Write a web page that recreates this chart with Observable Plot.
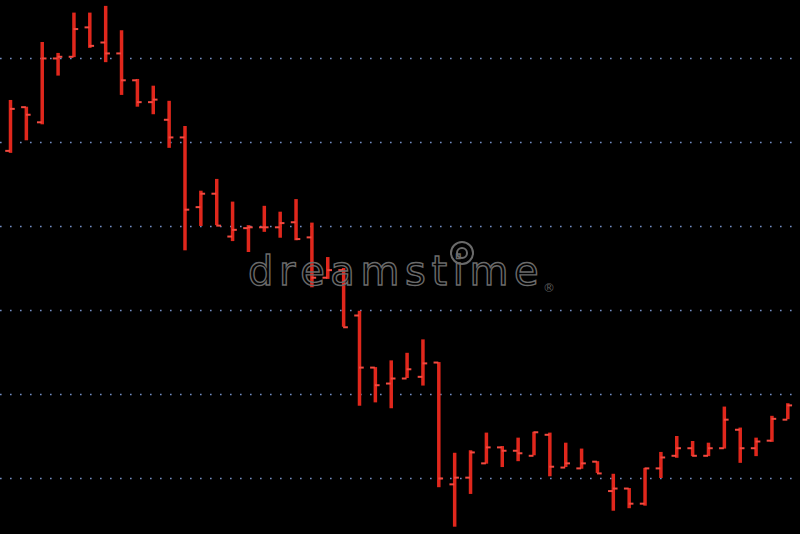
<!DOCTYPE html>
<html>
<head>
<meta charset="utf-8">
<script src="https://cdn.jsdelivr.net/npm/d3@7"></script>
<script src="https://cdn.jsdelivr.net/npm/@observablehq/plot@0.6"></script>
<style>
  html, body { margin: 0; padding: 0; background: #000; }
  #wrap { position: relative; width: 800px; height: 534px; overflow: hidden; }
  #wm { position: absolute; left: 248px; top: 248px; font-family: "DejaVu Sans", sans-serif;
        font-size: 40px; line-height: 46px; font-weight: normal; color: transparent; -webkit-text-stroke: 1.4px #6a6a6a;
        letter-spacing: 5.6px; white-space: nowrap; pointer-events: none; }
  #wm .last { letter-spacing: 0; }
  #reg { position: absolute; left: 543px; top: 281px; font-family: "DejaVu Sans", sans-serif; font-size: 12px;
         line-height: 14px; color: #5a5a5a; pointer-events: none; }
  #logo { position: absolute; left: 450px; top: 241px; width: 20px; height: 20px; border: 2px solid #6a6a6a;
          border-radius: 50%; pointer-events: none; }
  #logo2 { position: absolute; left: 456px; top: 247px; width: 8px; height: 8px; border: 2px solid #6a6a6a;
          border-radius: 50%; pointer-events: none; }
</style>
</head>
<body>
<div id="wrap"><div id="chart"></div><div id="logo"></div><div id="logo2"></div><div id="wm">dreamstim<span class="last">e</span></div><div id="reg">®</div></div>
<script>
const open  = [139.0,144.2,142.4,150.0,150.2,153.7,151.9,150.6,147.4,144.8,142.7,140.6,132.3,133.9,128.8,129.8,129.9,129.9,130.5,128.7,123.9,124.8,119.4,113.2,111.3,111.9,112.1,113.8,99.3,100.1,101.8,103.7,103.3,102.7,105.2,101.3,101.2,102.0,98.5,98.8,97.0,101.2,102.7,103.6,102.7,103.6,105.8,103.6,104.5,107.0];
const high  = [145.0,144.2,151.9,150.6,155.4,155.4,156.2,153.3,147.5,146.7,144.9,141.9,134.2,135.6,132.9,130.1,132.4,131.7,133.2,130.4,126.3,125.0,119.9,113.2,114.0,114.9,116.5,113.8,103.0,103.3,105.4,103.8,104.8,105.5,105.4,104.2,103.5,102.0,100.5,98.8,101.2,103.1,105.0,104.4,104.2,108.5,106.0,104.8,107.4,108.9];
const low   = [138.7,140.2,142.1,147.9,150.1,151.2,149.5,145.6,144.2,143.3,139.3,127.1,130.0,130.1,128.2,126.9,129.3,128.6,128.3,122.7,123.7,118.0,108.6,109.0,108.3,111.9,111.0,98.9,94.2,98.1,101.7,101.3,102.0,102.7,100.2,101.3,101.1,100.6,96.1,96.4,96.7,100.0,102.4,102.6,102.6,103.5,101.8,102.6,104.3,107.0];
const close = [144.0,143.3,150.0,150.2,153.5,151.5,150.6,147.4,144.8,145.1,140.6,132.0,133.9,130.1,129.6,129.9,129.9,130.4,128.5,123.9,124.8,118.0,113.2,111.1,111.9,113.0,113.7,100.0,100.1,103.1,103.7,103.3,103.0,105.5,101.4,101.8,101.8,100.6,98.8,97.0,101.2,102.5,103.6,102.7,103.6,107.0,103.6,104.4,107.1,108.7];
const gridLevels = [100, 110, 120, 130, 140, 150];

const data = open.map((o, i) => ({i, open: o, high: high[i], low: low[i], close: close[i]}));
const red = "#e0271c";
const tickRed = "#f24a40";
const chart = Plot.plot({
  width: 800, height: 534, margin: 0,
  x: {domain: [-0.63, 49.8], axis: null},
  y: {domain: [93.33, 156.9], axis: null},
  style: {background: "#000"},
  marks: [
    Plot.ruleY(gridLevels, {stroke: "#8aa8e8", strokeWidth: 1.6, strokeDasharray: "1.6,8.4", strokeOpacity: 0.85}),
    Plot.ruleX(data, {x: "i", y1: "low", y2: "high", stroke: red, strokeWidth: 3.5}),
    Plot.ruleY(data, {x1: d => d.i - 0.3, x2: d => d.i, y: "open", stroke: tickRed, strokeWidth: 2}),
    Plot.ruleY(data, {x1: d => d.i, x2: d => d.i + 0.3, y: "close", stroke: tickRed, strokeWidth: 2})
  ]
});
document.getElementById("chart").append(chart);
</script>
</body>
</html>
